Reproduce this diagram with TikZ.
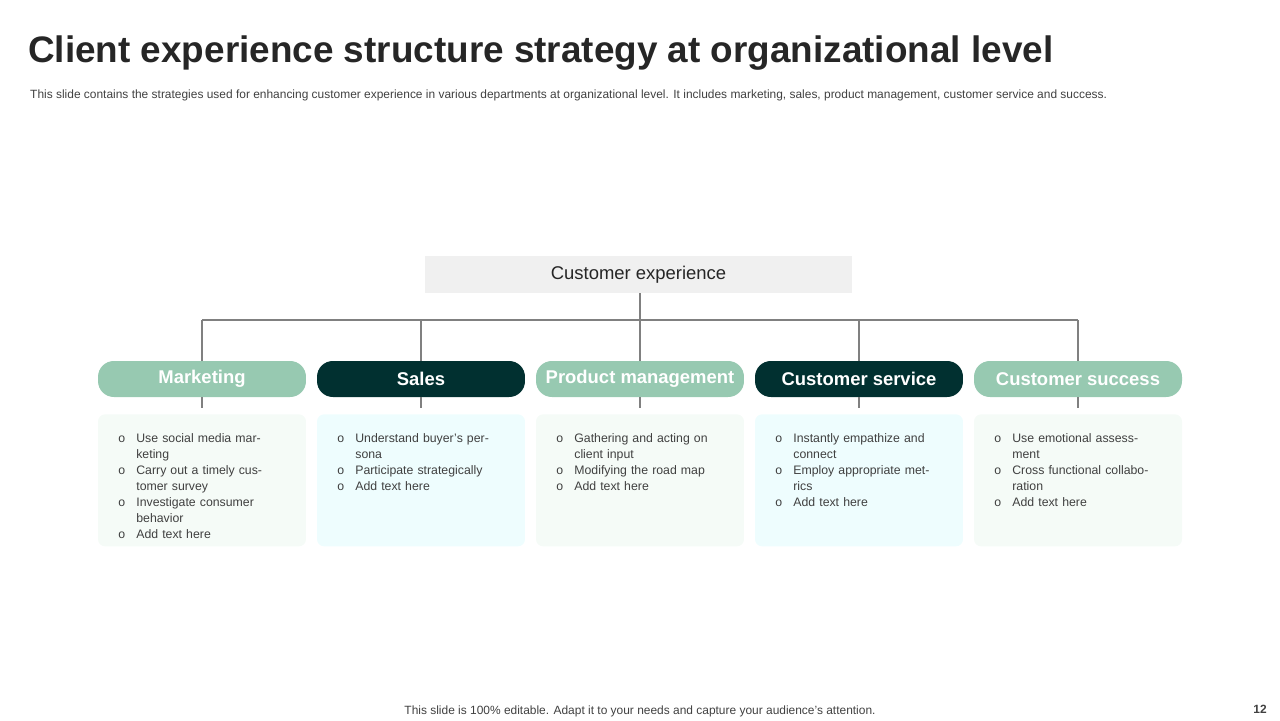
\documentclass[tikz,border=0pt]{standalone}
\usepackage{fontspec}
\setmainfont{Liberation Sans}
\usetikzlibrary{positioning}
\definecolor{pillgreen}{HTML}{97C9B1}
\definecolor{pilldark}{HTML}{013030}
\definecolor{boxgreen}{HTML}{F5FBF7}
\definecolor{boxcyan}{HTML}{EEFDFE}
\definecolor{txtgray}{HTML}{404040}
\newcommand{\bl}[1]{\par\hangindent=0.36cm\hangafter=1\noindent\makebox[0.36cm][l]{o}#1}

\begin{document}
\begin{tikzpicture}[x=0.02cm,y=-0.02cm]
    \tikzstyle{pill}=[rounded corners=9pt, minimum width=4.16cm, minimum height=0.72cm, inner sep=0pt, font=\bfseries\fontsize{10.5}{12}\selectfont]
    \tikzstyle{light pill}=[pill, fill=pillgreen, text=white]
    \tikzstyle{dark pill}=[pill, fill=pilldark, text=white]
    \tikzstyle{card}=[rounded corners=4pt, minimum width=4.16cm, minimum height=2.64cm, anchor=north]
    \tikzstyle{items}=[text width=3.15cm, align=left, anchor=north west, inner sep=0pt, text=txtgray, font=\fontsize{7}{9.1}\selectfont]
    \tikzstyle{wire}=[draw=gray, line width=0.6pt]

    \useasboundingbox (0,0) rectangle (1280,720);

    \node[anchor=north west, font=\bfseries\fontsize{21}{24}\selectfont, text=black!85] (title) at (22,30) {Client experience structure strategy at organizational level};
    \node[anchor=north west, font=\fontsize{6.8}{8}\selectfont, text=txtgray] (sub) at (24,84) {This slide contains the strategies used for enhancing customer experience in various departments at organizational level. It includes marketing, sales, product management, customer service and success.};

    \node[fill=black!6, minimum width=8.54cm, minimum height=0.74cm, font=\fontsize{10.5}{12}\selectfont, text=black!85] (top) at (638.5,274.5) {Customer experience};
    \coordinate (hub) at (640,320);
    \draw[wire] (top.south -| hub) -- (hub);

    \foreach \i/\x/\s/\c/\n in {1/202/light pill/boxgreen/Marketing, 2/421/dark pill/boxcyan/Sales, 3/640/light pill/boxgreen/Product management, 4/859/dark pill/boxcyan/Customer service, 5/1078/light pill/boxgreen/Customer success}{
        \node[card, fill=\c] (C-\i) at (\x,414) {};
        \node[\s] (P-\i) at (\x,379) {\n};
        \coordinate (T-\i) at (\x,320);
        \coordinate (K-\i) at (\x,408);
        \draw[wire] (T-\i) -- (P-\i.north);
        \draw[wire] (P-\i.south) -- (K-\i);
    }
    \draw[wire] (T-1) -- (T-5);

    \node[items] (L-1) at (118,426) {\bl{Use social media marketing}\bl{Carry out a timely customer survey}\bl{Investigate consumer behavior}\bl{Add text here}};
    \node[items] (L-2) at (337,426) {\bl{Understand buyer's persona}\bl{Participate strategically}\bl{Add text here}};
    \node[items] (L-3) at (556,426) {\bl{Gathering and acting on client input}\bl{Modifying the road map}\bl{Add text here}};
    \node[items] (L-4) at (775,426) {\bl{Instantly empathize and connect}\bl{Employ appropriate metrics}\bl{Add text here}};
    \node[items] (L-5) at (994,426) {\bl{Use emotional assessment}\bl{Cross functional collaboration}\bl{Add text here}};

    \node[font=\fontsize{6.8}{8}\selectfont, text=txtgray] (foot) at (640,711) {This slide is 100\% editable. Adapt it to your needs and capture your audience's attention.};
    \node[font=\bfseries\fontsize{6.8}{8}\selectfont, text=txtgray] (num) at (1260,709) {12};
\end{tikzpicture}
\end{document}
